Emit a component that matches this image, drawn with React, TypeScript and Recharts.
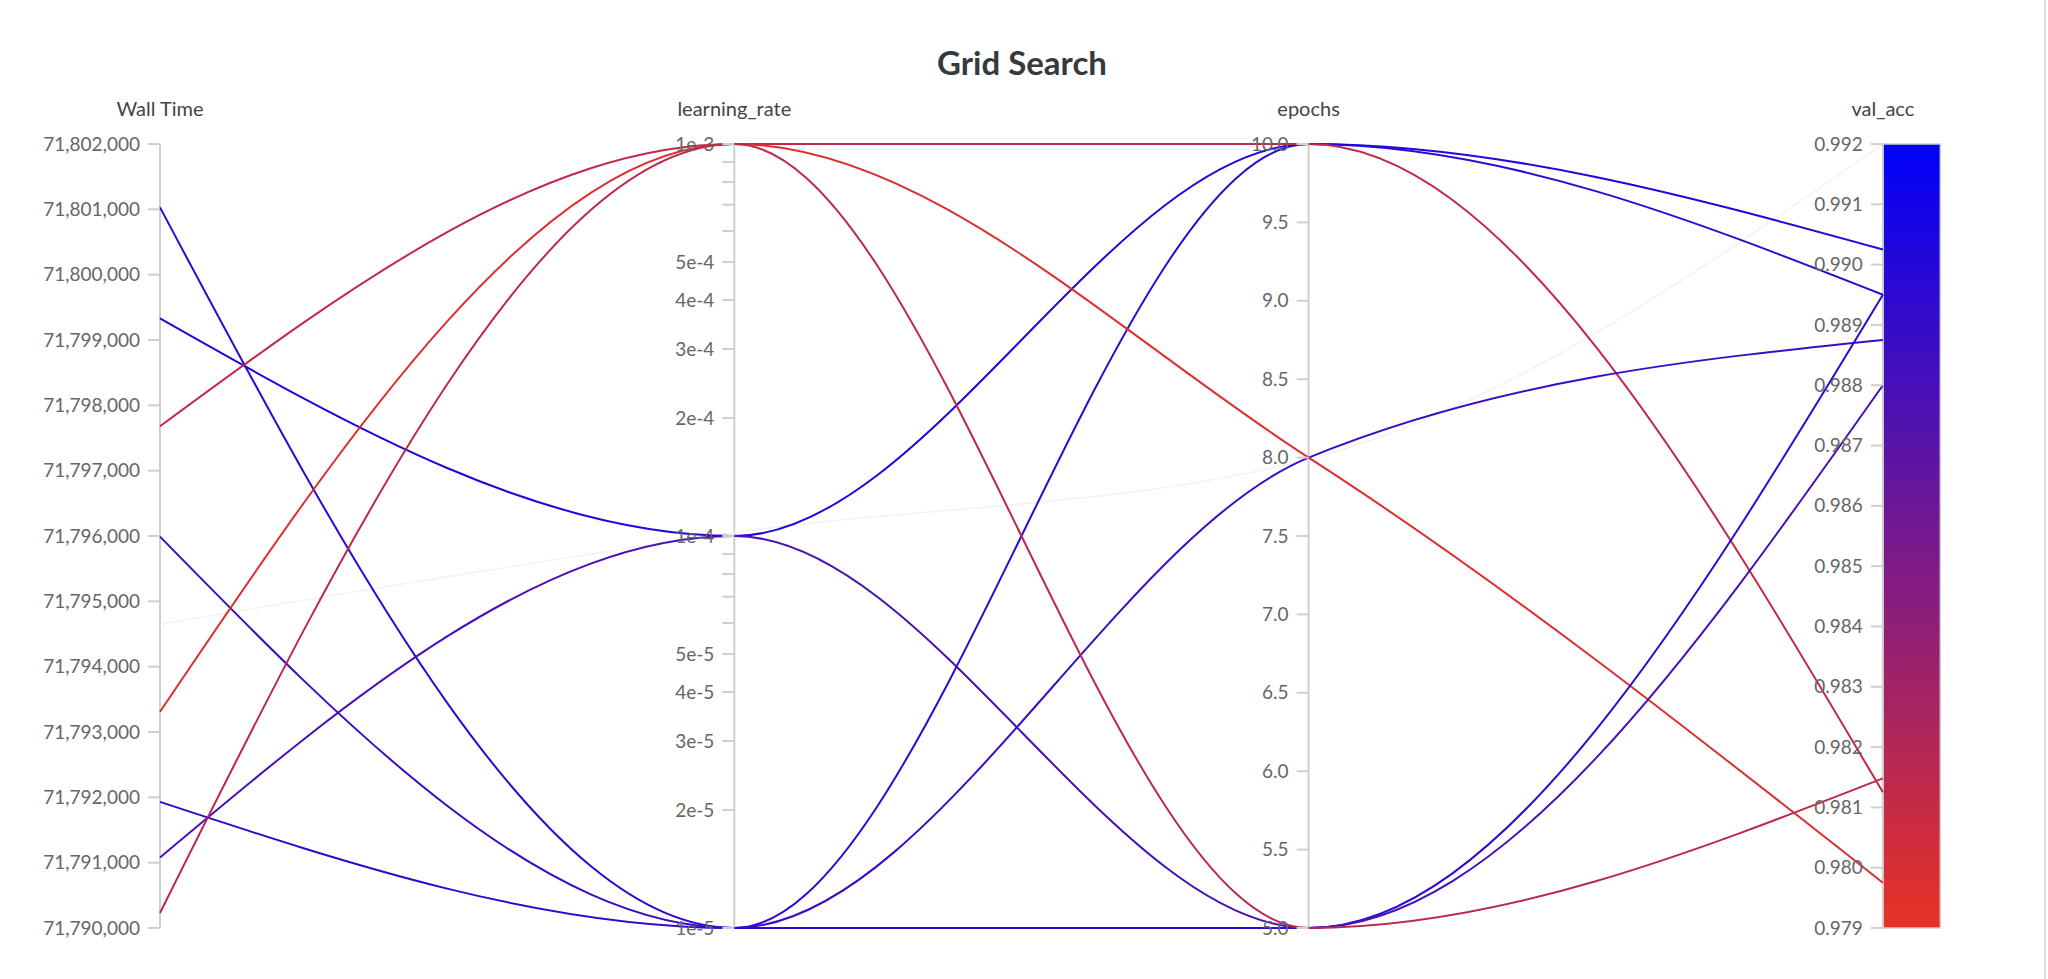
import React from 'react';
import { LineChart, Line, XAxis, YAxis, ReferenceLine, ReferenceArea } from 'recharts';

// axes of the parallel-coordinates plot, left to right
const dimensions = ['Wall Time', 'learning_rate', 'epochs', 'val_acc'];

// one entry per run
const wallTime = [71801030, 71799330, 71797680, 71795990, 71793310, 71791930, 71791080, 71790230];
const learningRate = [1e-5, 1e-4, 1e-3, 1e-5, 1e-3, 1e-5, 1e-4, 1e-3];
const epochs = [10, 10, 10, 8, 8, 5, 5, 5];
const valAcc = [0.9895, 0.99025, 0.98125, 0.98875, 0.97975, 0.9895, 0.988, 0.98148];

// faint hover trace visible in the panel
const hoverTrace = [71794650, 1.02e-4, 7.99, 0.992];

const wallTicks = [
  71790000, 71791000, 71792000, 71793000, 71794000, 71795000, 71796000,
  71797000, 71798000, 71799000, 71800000, 71801000, 71802000,
];
const lrTicks = [
  1e-5, 2e-5, 3e-5, 4e-5, 5e-5, 6e-5, 7e-5, 8e-5, 9e-5,
  1e-4, 2e-4, 3e-4, 4e-4, 5e-4, 6e-4, 7e-4, 8e-4, 9e-4, 1e-3,
];
const lrLabels = [1e-5, 2e-5, 3e-5, 4e-5, 5e-5, 1e-4, 2e-4, 3e-4, 4e-4, 5e-4, 1e-3];
const epochTicks = [5, 5.5, 6, 6.5, 7, 7.5, 8, 8.5, 9, 9.5, 10];
const accTicks = [
  0.979, 0.98, 0.981, 0.982, 0.983, 0.984, 0.985,
  0.986, 0.987, 0.988, 0.989, 0.99, 0.991, 0.992,
];

const axes = [
  { id: 'wall', domain: [71790000, 71802000], scale: 'linear', ticks: wallTicks, fmt: (v: number) => v.toLocaleString('en-US') },
  { id: 'lr', domain: [1e-5, 1e-3], scale: 'log', ticks: lrTicks, fmt: (v: number) => (lrLabels.includes(v) ? v.toExponential(0) : '') },
  { id: 'epochs', domain: [5, 10], scale: 'linear', ticks: epochTicks, fmt: (v: number) => v.toFixed(1) },
  { id: 'acc', domain: [0.979, 0.992], scale: 'linear', ticks: accTicks, fmt: (v: number) => v.toFixed(3) },
];

const columns = [wallTime, learningRate, epochs, valAcc];

const normalize = (i: number, v: number) => {
  const [lo, hi] = axes[i].domain;
  if (axes[i].scale === 'log') return (Math.log10(v) - Math.log10(lo)) / (Math.log10(hi) - Math.log10(lo));
  return (v - lo) / (hi - lo);
};

const data = dimensions.map((name, i) => {
  const row: Record<string, number | string> = { pos: i, name };
  columns[i].forEach((v, r) => {
    row[`run${r}`] = normalize(i, v);
  });
  row.hover = normalize(i, hoverTrace[i]);
  return row;
});

const RED = [233, 50, 36];
const BLUE = [0, 0, 250];
const accColor = (v: number) => {
  const t = Math.max(0, Math.min(1, (v - 0.979) / 0.013));
  const c = RED.map((r, k) => Math.round(r + (BLUE[k] - r) * t));
  return `rgb(${c[0]},${c[1]},${c[2]})`;
};

const W = 2048;
const H = 979;
const PLOT_LEFT = 160;
const STEP = 574.3;
const X_MAX = 3.1;
// each tick axis takes 1px (a 0px axis is not drawn at all)
const M = { top: 144, right: W - PLOT_LEFT - STEP * X_MAX, bottom: 51, left: PLOT_LEFT - axes.length };
const FONT = 'Lato, "Noto Sans", sans-serif';
const GRID = '#cfcfcf';

const makeTick = (axisIndex: number, fmt: (v: number) => string) => (props: any) => {
  const { y, payload } = props;
  const ax = PLOT_LEFT + axisIndex * STEP;
  return (
    <g>
      <line x1={ax - 12} x2={ax} y1={y} y2={y} stroke={GRID} strokeWidth={2} />
      <text x={ax - 20} y={y} dy="0.35em" textAnchor="end" fill="#666" fontSize={19} fontFamily={FONT}>
        {fmt(payload.value)}
      </text>
    </g>
  );
};

const GridSearchChart = () => {
  return (
    <div style={{ position: 'absolute', left: 0, top: 0, width: W, height: H, background: '#fff', fontFamily: FONT }}>
      <div style={{ position: 'absolute', left: 0, top: 40, width: 2044, textAlign: 'center', fontSize: 33, fontWeight: 700, color: '#363a3f', lineHeight: '44px' }}>
        Grid Search
      </div>
      {dimensions.map((d, i) => (
        <div
          key={d}
          style={{
            position: 'absolute',
            left: PLOT_LEFT + i * STEP,
            top: 95,
            transform: 'translateX(-50%)',
            fontSize: 20,
            color: '#444',
            whiteSpace: 'nowrap',
            lineHeight: '26px',
          }}
        >
          {d}
        </div>
      ))}
      <div style={{ position: 'absolute', left: 2044, top: 0, width: 1.5, height: H, background: '#ddd' }} />
      <LineChart width={W} height={H} data={data} margin={M}>
        <defs>
          <linearGradient id="accGradient" x1="0" y1="0" x2="0" y2="1">
            <stop offset="0%" stopColor={accColor(0.992)} />
            <stop offset="100%" stopColor={accColor(0.979)} />
          </linearGradient>
        </defs>
        <XAxis type="number" dataKey="pos" domain={[0, X_MAX]} hide />
        <YAxis yAxisId="norm" domain={[0, 1]} hide />
        {axes.map((a, i) => (
          <YAxis
            key={a.id}
            yAxisId={a.id}
            orientation="left"
            width={1}
            scale={a.scale as any}
            domain={a.domain}
            ticks={a.ticks}
            interval={0}
            axisLine={false}
            tickLine={false}
            allowDataOverflow
            tick={makeTick(i, a.fmt)}
          />
        ))}
        {dimensions.map((d, i) => (
          <ReferenceLine key={d} x={i} yAxisId="norm" stroke={GRID} strokeWidth={2} />
        ))}
        <ReferenceArea
          x1={3}
          x2={X_MAX}
          y1={0}
          y2={1}
          yAxisId="norm"
          fill="url(#accGradient)"
          fillOpacity={1}
          stroke="#cfcfcf"
          strokeWidth={1.5}
        />
        <Line
          yAxisId="norm"
          dataKey="hover"
          type="monotone"
          stroke="#f2f2f2"
          strokeWidth={1.5}
          dot={false}
          activeDot={false}
          isAnimationActive={false}
        />
        {valAcc.map((v, r) => (
          <Line
            key={r}
            yAxisId="norm"
            dataKey={`run${r}`}
            type="monotone"
            stroke={accColor(v)}
            strokeWidth={2}
            dot={false}
            activeDot={false}
            isAnimationActive={false}
          />
        ))}
      </LineChart>
    </div>
  );
};

export default function App() {
  return <GridSearchChart />;
}
